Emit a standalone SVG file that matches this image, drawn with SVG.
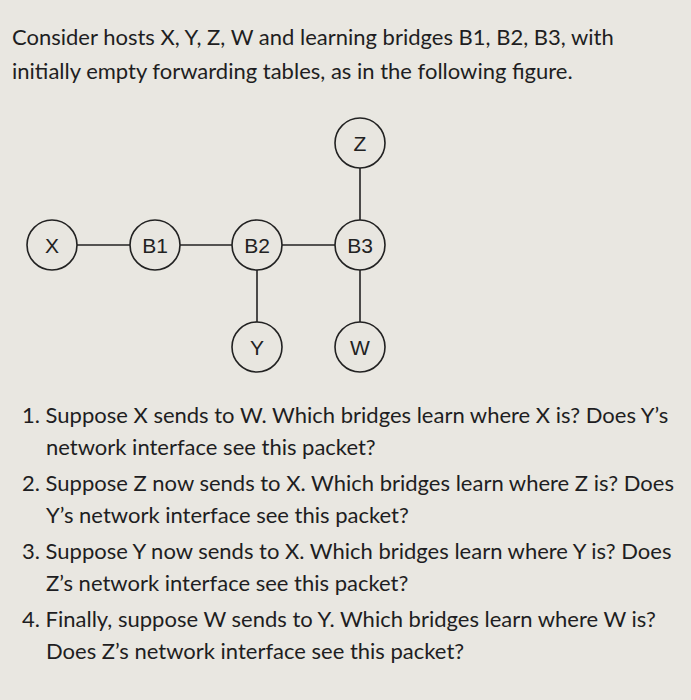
<svg xmlns="http://www.w3.org/2000/svg" width="691" height="700" viewBox="0 0 691 700">
<style>
.t{font-family:Lato,"Open Sans",sans-serif;font-size:22px;fill:#1e1e22}
.n circle{fill:#e8e6e0;stroke:#222;stroke-width:1.6}
.n text{font-family:"Liberation Sans",Arial,sans-serif;font-size:21px;fill:#222;text-anchor:middle}
.c line{stroke:#222;stroke-width:1.6}
</style>
<rect width="691" height="700" fill="#e9e7e1"/>
<text class="t" x="12" y="45">Consider hosts X, Y, Z, W and learning bridges B1, B2, B3, with</text>
<text class="t" x="12" y="79">initially empty forwarding tables, as in the following figure.</text>
<g class="c">
<line x1="77" y1="245" x2="130" y2="245"/>
<line x1="180" y1="245" x2="232" y2="245"/>
<line x1="282" y1="245" x2="335" y2="245"/>
<line x1="360" y1="168" x2="360" y2="220"/>
<line x1="257" y1="270" x2="257" y2="322"/>
<line x1="360" y1="270" x2="360" y2="322"/>
</g>
<g id="X" class="n"><circle cx="52" cy="245" r="25"/><text x="52" y="253">X</text></g>
<g id="B1" class="n"><circle cx="155" cy="245" r="25"/><text x="155" y="253">B1</text></g>
<g id="B2" class="n"><circle cx="257" cy="245" r="25"/><text x="257" y="253">B2</text></g>
<g id="B3" class="n"><circle cx="360" cy="245" r="25"/><text x="360" y="253">B3</text></g>
<g id="Z" class="n"><circle cx="360" cy="143" r="25"/><text x="360" y="151">Z</text></g>
<g id="Y" class="n"><circle cx="257" cy="347" r="25"/><text x="257" y="355">Y</text></g>
<g id="W" class="n"><circle cx="360" cy="347" r="25"/><text x="360" y="355">W</text></g>
<text class="t" x="22" y="423">1. Suppose X sends to W. Which bridges learn where X is? Does Y’s</text>
<text class="t" x="46" y="455">network interface see this packet?</text>
<text class="t" x="22" y="491">2. Suppose Z now sends to X. Which bridges learn where Z is? Does</text>
<text class="t" x="46" y="523">Y’s network interface see this packet?</text>
<text class="t" x="22" y="559">3. Suppose Y now sends to X. Which bridges learn where Y is? Does</text>
<text class="t" x="46" y="591">Z’s network interface see this packet?</text>
<text class="t" x="22" y="627">4. Finally, suppose W sends to Y. Which bridges learn where W is?</text>
<text class="t" x="46" y="659">Does Z’s network interface see this packet?</text>
</svg>
